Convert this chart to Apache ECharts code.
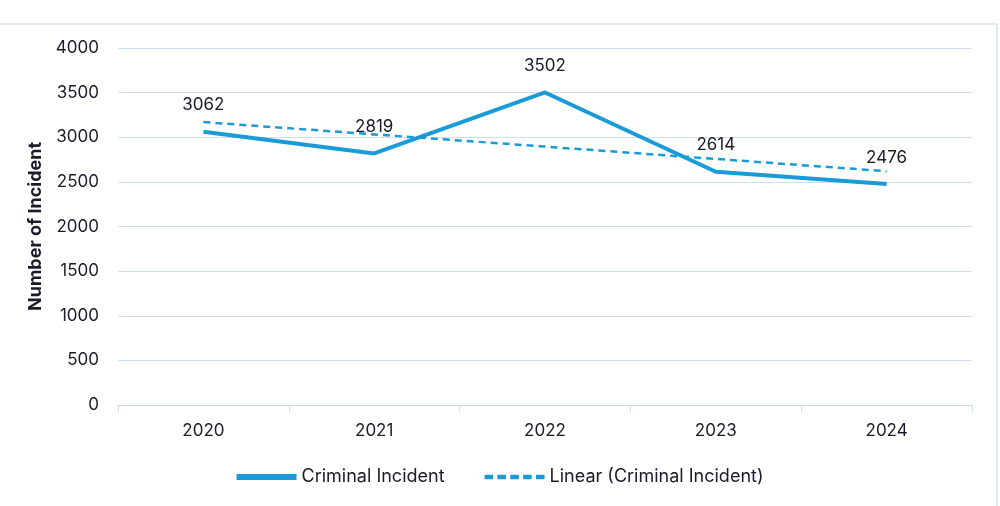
<!DOCTYPE html>
<html><head><meta charset="utf-8">
<script src="https://cdn.jsdelivr.net/npm/echarts@6/dist/echarts.min.js"></script>
<style>html,body{margin:0;padding:0;background:#fff}#c{width:1000px;height:506px}</style>
</head><body><div id="c"></div>
<script>
const years = ['2020','2021','2022','2023','2024'];
const incidents = [3062, 2819, 3502, 2614, 2476];
const trend = [3170, 3032, 2895, 2757, 2619];
const yTicks = [0, 500, 1000, 1500, 2000, 2500, 3000, 3500, 4000];

const chart = echarts.init(document.getElementById('c'));
const blue = '#1a9ad6';
const txt = '#1b1b2b';
const font = 'Inter, "Open Sans", sans-serif';
chart.setOption({
  animation: false,
  textStyle: {fontFamily: font},
  graphic: [{type:'rect', shape:{x:-2, y:24, width:999, height:500}, style:{fill:'none', stroke:'#d6e3f0', lineWidth:1.5}, silent:true}],
  grid: {left:118, right:28, top:48, bottom:101},
  legend: {
    bottom: 15, left: 'center', itemWidth: 60, itemHeight: 12, itemGap: 40,
    textStyle: {fontSize: 18, color: txt, fontFamily: font},
    data: [
      {name:'Criminal Incident', icon:'path://M0,0 L60,0 L60,6 L0,6 Z', itemStyle:{color: blue, opacity: 1}},
      {name:'Linear (Criminal Incident)', icon:'path://M0,0h8v4h-8z M12,0h8v4h-8z M24,0h8v4h-8z M36,0h8v4h-8z M48,0h8v4h-8z', itemStyle:{color: blue}}
    ]
  },
  xAxis: {
    type: 'category', data: years, boundaryGap: true,
    axisLine: {lineStyle: {color:'#c9d9ea', width:1}},
    axisTick: {show:true, length:6, lineStyle:{color:'#c9d9ea'}},
    axisLabel: {fontSize: 17, color: txt, margin: 17, fontFamily: font}
  },
  yAxis: {
    type: 'value', min: yTicks[0], max: yTicks[yTicks.length-1], interval: 500,
    name: 'Number of Incident', nameLocation: 'middle', nameGap: 72,
    nameTextStyle: {fontSize: 18, fontWeight: 'bold', color: txt, fontFamily: font},
    axisLine: {show:false}, axisTick: {show:false},
    axisLabel: {fontSize: 17, color: txt, margin: 19, fontFamily: font, formatter: v => String(v)},
    splitLine: {lineStyle: {color:'#cfdff0', width:1}}
  },
  series: [
    {
      name: 'Criminal Incident', type: 'line', data: incidents,
      symbol: 'circle', symbolSize: 2, showSymbol: true,
      lineStyle: {color: blue, width: 4}, itemStyle: {color: 'rgba(0,0,0,0)', borderWidth: 0},
      label: {show: true, position: 'top', distance: 17, fontSize: 17, color: txt, fontFamily: font},
      z: 3
    },
    {
      name: 'Linear (Criminal Incident)', type: 'line', data: trend, symbol: 'none',
      lineStyle: {color: blue, width: 2.5, type: [7, 5]}, itemStyle: {color: blue},
      z: 2
    }
  ]
});
</script></body></html>
